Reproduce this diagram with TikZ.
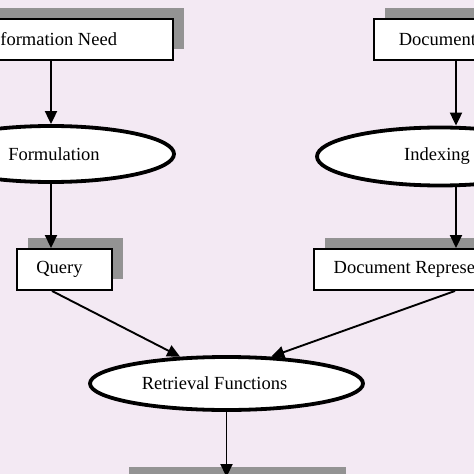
\documentclass[tikz,border=0pt]{standalone}
\usepackage{fontspec}
\setmainfont{Liberation Serif}
\usetikzlibrary{shapes.geometric,arrows.meta,shadows}
\definecolor{bgpink}{HTML}{F3E9F3}
\definecolor{shadowgray}{HTML}{939393}
\tikzset{
  txt/.style={font=\fontsize{18.5bp}{22bp}\selectfont, inner sep=0pt},
  sbox/.style={txt, rectangle, draw=black, line width=1.9bp, fill=white,
    drop shadow={shadow xshift=11bp, shadow yshift=11bp, fill=shadowgray, opacity=1}},
  sell/.style={txt, ellipse, draw=black, line width=3.8bp, fill=white},
  arr/.style={line width=1.9bp, -{Triangle[length=13bp,width=12bp]}},
}
\begin{document}
\begin{tikzpicture}[x=1bp,y=-1bp]
\fill[bgpink] (0,0) rectangle (474,474);
\useasboundingbox (0,0) rectangle (474,474);
\clip (0,0) rectangle (474,474);
% boxes
\node[sbox, minimum width=244bp, minimum height=41bp] (need) at (51,39.5) {Information Need};
\node[sbox, minimum width=134bp, minimum height=41bp] (docs) at (441,39.5) {Documents};
\node[sbox, minimum width=95bp, minimum height=41bp, text width=95bp, align=center] (query) at (64.5,269.5) {\hspace*{-10bp}Query};
\node[sbox, minimum width=232bp, minimum height=41bp] (docrep) at (430,269.5) {Document Representation};
\node[sbox, minimum width=217bp, minimum height=42bp] (out) at (226.5,499) {};
% ellipses
\node[sell, minimum width=246bp, minimum height=56bp] (form) at (51,154) {\hspace*{6bp}Formulation};
\node[sell, minimum width=246bp, minimum height=58bp] (idx) at (440,156.5) {\hspace*{-6bp}Indexing};
\node[sell, minimum width=273bp, minimum height=53bp] (ret) at (226.5,383.5) {Retrieval Functions\hspace*{24bp}};
% connectors
\draw[arr] (need.south) -- (form.north);
\draw[arr] (form.south) -- (form.south |- query.north);
\draw[arr] (456,0 |- docs.south) -- (456,0 |- idx.north);
\draw[arr] (456,0 |- idx.south) -- (456,0 |- docrep.north);
\draw[arr] ([xshift=-12.5bp]query.south) -- (ret.150);
\draw[arr] ([xshift=25bp]docrep.south) -- (ret.31);
\draw[arr] (ret.south) -- (out.north);
\end{tikzpicture}
\end{document}
